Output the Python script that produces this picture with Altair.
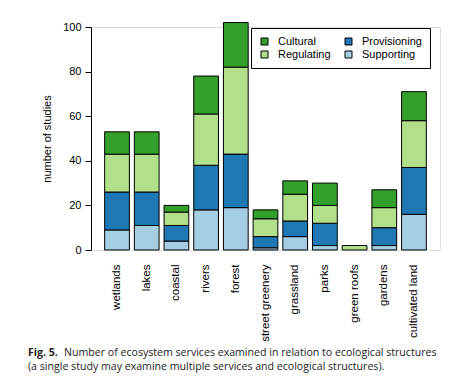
import altair as alt
import pandas as pd

structures = ["wetlands", "lakes", "coastal", "rivers", "forest", "street greenery",
              "grassland", "parks", "green roofs", "gardens", "cultivated land"]
supporting   = [9, 11, 4, 18, 19, 1, 6, 2, 0, 2, 16]
provisioning = [17, 15, 7, 20, 24, 5, 7, 10, 0, 8, 21]
regulating   = [17, 17, 6, 23, 39, 8, 12, 8, 2, 9, 21]
cultural     = [10, 10, 3, 17, 20, 4, 6, 10, 0, 8, 13]

services = ["Cultural", "Regulating", "Provisioning", "Supporting"]
colors = ["#33a02c", "#b2df8a", "#1f78b4", "#a6cee3"]
stack_order = {"Supporting": 0, "Provisioning": 1, "Regulating": 2, "Cultural": 3}

rows = []
for name, vals in [("Supporting", supporting), ("Provisioning", provisioning),
                   ("Regulating", regulating), ("Cultural", cultural)]:
    for s, v in zip(structures, vals):
        if v > 0:
            rows.append({"structure": s, "service": name, "n": v, "ord": stack_order[name]})
df = pd.DataFrame(rows)

caption_bold = ["Fig. 5."]
caption_line1 = ["Number of ecosystem services examined in relation to ecological structures"]
caption_line2 = ["(a single study may examine multiple services and ecological structures)."]

FONT = "Liberation Sans"

bars = alt.Chart(df).mark_bar(stroke="black", strokeWidth=1, clip=False).encode(
    x=alt.X("structure:N", sort=structures,
            scale=alt.Scale(paddingInner=0.167, paddingOuter=0.46),
            axis=alt.Axis(title=None, labelAngle=-90, labelAlign="right", labelBaseline="middle",
                          domain=False, ticks=False, labelPadding=14, labelFont=FONT,
                          labelFontSize=11.5, labelColor="black")),
    y=alt.Y("n:Q", stack="zero",
            scale=alt.Scale(domain=[0, 100], nice=False),
            axis=alt.Axis(title="number of studies", values=[0, 20, 40, 60, 80, 100],
                          labelAngle=0, grid=False, domainColor="black", tickColor="black",
                          tickSize=6, labelPadding=4, labelFont=FONT, labelFontSize=11,
                          labelColor="black", titleFont=FONT, titleFontSize=11,
                          titleFontWeight="normal", titleColor="black", titlePadding=10)),
    color=alt.Color("service:N",
                    scale=alt.Scale(domain=services, range=colors),
                    legend=alt.Legend(title=None, orient="none", legendX=160, legendY=1,
                                      columns=2, symbolType="square", symbolSize=49,
                                      symbolStrokeColor="black", symbolStrokeWidth=1,
                                      symbolOpacity=1, labelFont=FONT, labelFontSize=11,
                                      labelColor="black", labelOffset=8, columnPadding=12,
                                      rowPadding=1, padding=8, strokeColor="black",
                                      gridAlign="each")),
    order=alt.Order("ord:Q", sort="ascending"),
)

cap_font = "Open Sans"
CAP = 10.6
t_bold = alt.Chart(pd.DataFrame({"t": caption_bold})).mark_text(
    align="left", baseline="alphabetic", font=cap_font, fontSize=CAP, fontWeight="bold",
    color="#222"
).encode(text="t:N", x=alt.value(-63), y=alt.value(329))
t1 = alt.Chart(pd.DataFrame({"t": caption_line1})).mark_text(
    align="left", baseline="alphabetic", font=cap_font, fontSize=CAP, color="#222"
).encode(text="t:N", x=alt.value(-27), y=alt.value(329))
t2 = alt.Chart(pd.DataFrame({"t": caption_line2})).mark_text(
    align="left", baseline="alphabetic", font=cap_font, fontSize=CAP, color="#222"
).encode(text="t:N", x=alt.value(-63), y=alt.value(343))

chart = alt.layer(bars, t_bold, t1, t2).properties(
    width=349, height=223,
    autosize=alt.AutoSizeParams(type="none"),
    padding={"left": 91, "top": 27, "right": 12, "bottom": 127},
).configure_view(stroke=None).configure(background="white")

chart.save("out.html", embed_options={"renderer": "svg", "actions": False})
